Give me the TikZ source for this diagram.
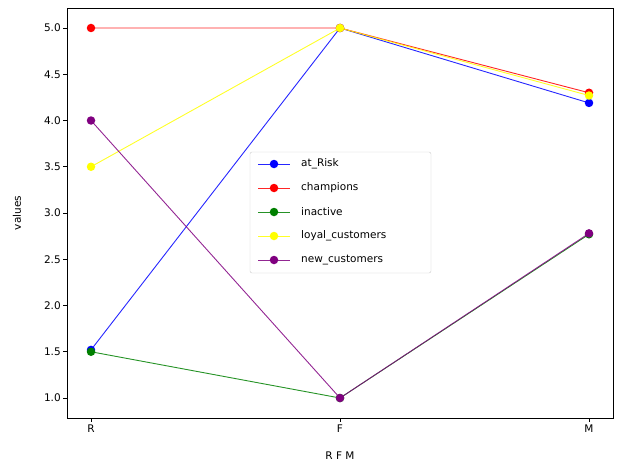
\documentclass[tikz,border=0pt]{standalone}
\usepackage{fontspec}
\setmainfont{DejaVu Sans}
\begin{document}
\begin{tikzpicture}[x=1pt,y=1pt,font=\fontsize{10.5}{12}\selectfont,
  ser/.style={line width=0.9pt,opacity=0.85},
  dot/.style={circle,inner sep=0pt,minimum size=8.5pt,fill=#1},
  tick/.style={line width=0.6pt}]
\useasboundingbox (0,0) rectangle (623,475);
\definecolor{myyellow}{RGB}{255,255,0}
\definecolor{mypurple}{RGB}{128,0,128}
\definecolor{mygreen}{RGB}{0,128,0}
% axes
\draw[line width=0.7pt] (67,57) rectangle (613,467);
\begin{scope}[shift={(91pt,77pt)},x=249pt,y=92.5pt]
\foreach \v/\l in {0/1.0,0.5/1.5,1/2.0,1.5/2.5,2/3.0,2.5/3.5,3/4.0,3.5/4.5,4/5.0}{
  \draw[tick] (-24pt,\v) -- ++(-4pt,0) node[left,inner sep=2pt] {\l};}
\foreach \i/\l in {0/R,1/F,2/M}{
  \draw[tick] (\i,-20pt) -- ++(0,-4pt) node[below,inner sep=3pt] {\l};}
% series
\foreach \c/\a/\b/\d [count=\k] in {blue/0.52/4/3.19, red/4/4/3.3, mygreen/0.5/0/1.77, myyellow/2.5/4/3.27, mypurple/3/0/1.78}{
  \coordinate (s\k a) at (0,\a); \coordinate (s\k b) at (1,\b); \coordinate (s\k c) at (2,\d);
  \draw[ser,\c] (s\k a) -- (s\k b) -- (s\k c);
  \node[dot=\c] at (s\k a) {}; \node[dot=\c] at (s\k b) {}; \node[dot=\c] at (s\k c) {};
}
\end{scope}
\node[rotate=90] (yl) at (17,262) {values};
\node (xl) at (340,19) {R F M};
% legend
\draw[rounded corners=2pt,draw=black!20,fill=white] (250,202) rectangle (431,323);
\foreach \c/\t [count=\k] in {blue/at\_Risk,red/champions,mygreen/inactive,myyellow/loyal\_customers,mypurple/new\_customers}{
  \pgfmathsetmacro{\yy}{311-(\k-1)*24}
  \coordinate (l\k a) at (258,\yy); \coordinate (l\k b) at (290,\yy);
  \draw[ser,\c] (l\k a) -- (l\k b);
  \node[dot=\c] at (274,\yy) {};
  \node[anchor=west,inner sep=0pt] (t\k) at (301,\yy) {\t};
}
\end{tikzpicture}
\end{document}
